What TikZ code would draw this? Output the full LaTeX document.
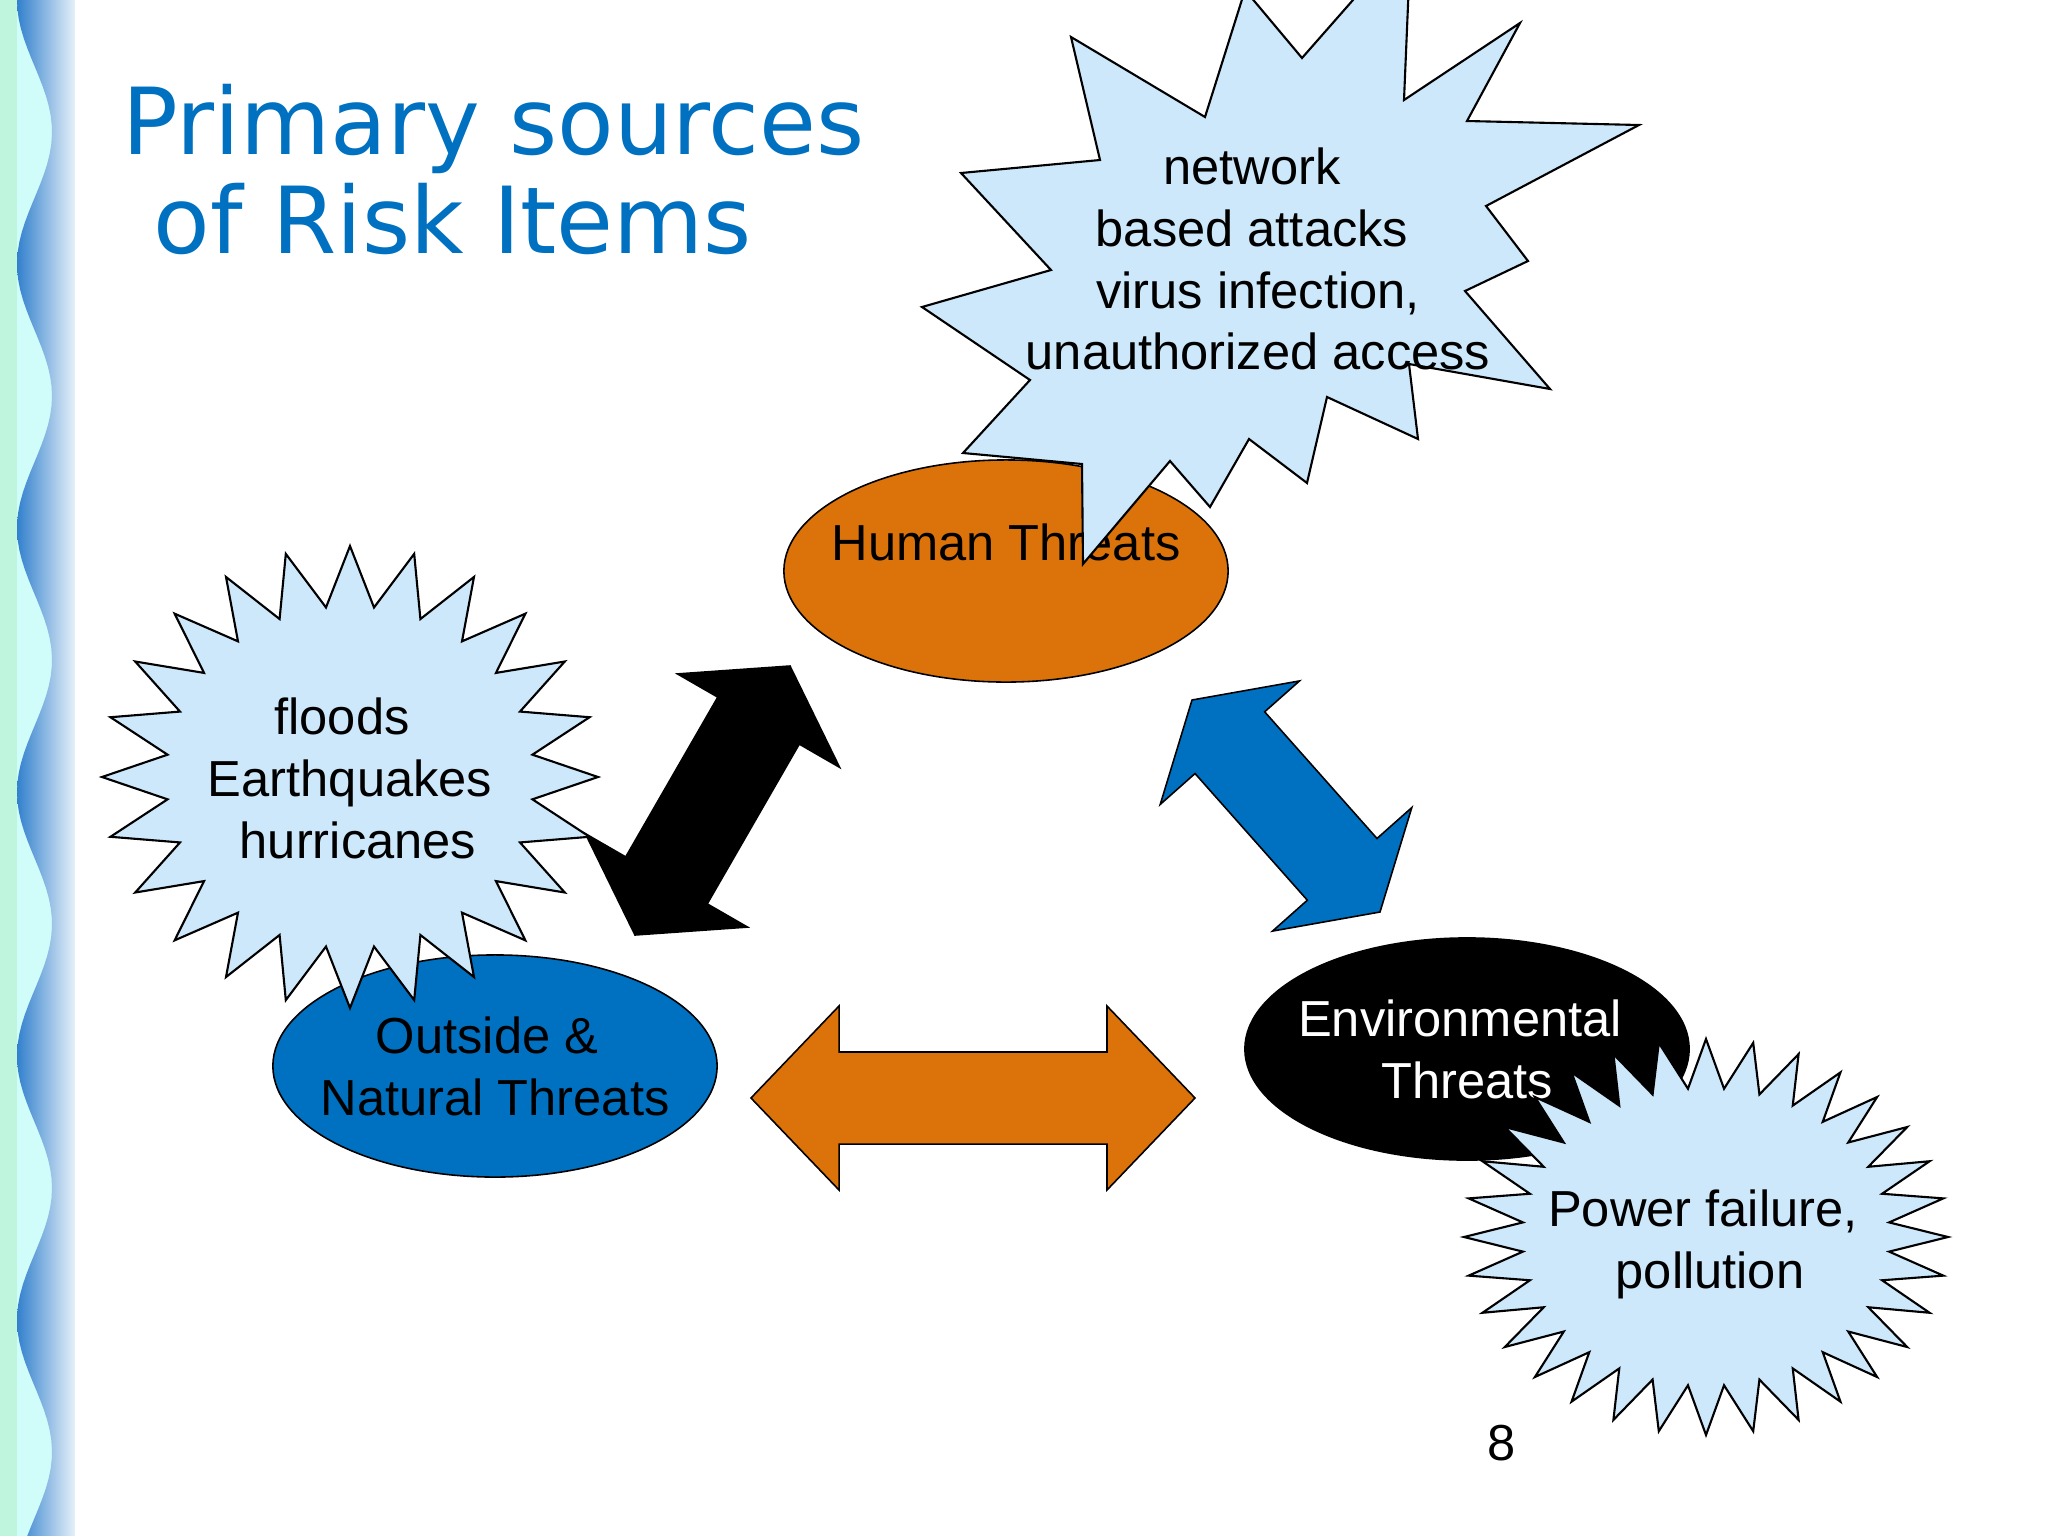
\documentclass[tikz,border=0pt]{standalone}
\usepackage{fontspec}
\setmainfont{Liberation Sans}
\newfontfamily\titlefont{DejaVu Sans}
\usetikzlibrary{calc,shapes.geometric}

\definecolor{titleblue}{RGB}{0,112,192}
\definecolor{threatorange}{RGB}{219,115,10}
\definecolor{threatblue}{RGB}{0,112,192}
\definecolor{burstblue}{RGB}{204,232,250}
\definecolor{bandgreen}{RGB}{190,245,220}
\definecolor{bandcyan}{RGB}{208,252,250}
\definecolor{bandblue}{RGB}{50,128,205}
\definecolor{bandpale}{RGB}{230,241,249}

\newcommand\bodysize{\fontsize{14.4pt}{17.6pt}\selectfont}
% block arrow with a head at both ends: tip, tip, half shaft, half head, head length, fill
\newcommand\dblarrow[6]{%
	\coordinate (ha) at ($(#1)!#5!(#2)$);
	\coordinate (hb) at ($(#2)!#5!(#1)$);
	\draw[arrowbox, fill=#6] (#1)
		-- ($(ha)!#4!90:(#2)$) -- ($(ha)!#3!90:(#2)$)
		-- ($(hb)!#3!-90:(#1)$) -- ($(hb)!#4!-90:(#1)$)
		-- (#2)
		-- ($(hb)!#4!90:(#1)$) -- ($(hb)!#3!90:(#1)$)
		-- ($(ha)!#3!-90:(#2)$) -- ($(ha)!#4!-90:(#2)$)
		-- cycle;
}

\begin{document}
\begin{tikzpicture}[
	x=0.01cm, y=-0.01cm,
	font=\bodysize,
	blob/.style={
		ellipse,
		draw,
		line width=0.45pt,
		minimum width=4.44cm,
		minimum height=2.22cm,
		inner xsep=-0.5cm,
		inner ysep=0pt,
		align=center,
	},
	burst/.style={draw, fill=burstblue, line width=0.6pt, line join=miter},
	arrowbox/.style={draw, line width=0.45pt, line join=miter},
	lbl/.style={align=center, inner sep=0pt},
]

\fill[white] (0,0) rectangle (2048,1536);
\clip (0,0) rectangle (2048,1536);

% wavy band on the left edge
\fill[bandgreen] (0,0) rectangle (17,1536);
\fill[bandcyan] (17,0) rectangle (60,1536);
\shade[left color=bandblue, right color=bandpale] (75,0)
	-- plot[domain=0:1536, samples=160, variable=\yy] ({34.5-17.5*cos(\yy/264*360)}, \yy)
	-- (75,1536) -- cycle;

\node[anchor=north west, inner sep=0pt, align=left, text=titleblue,
	font=\titlefont\fontsize{26.3pt}{27.9pt}\selectfont] (title) at (122,84)
	{Primary sources\\\hspace*{0.31cm}of Risk Items};

\coordinate (bkA) at (790,666);
\coordinate (bkB) at (635,935);
\coordinate (blA) at (1192,700);
\coordinate (blB) at (1380,912);
\coordinate (orA) at (751,1098);
\coordinate (orB) at (1195,1098);

\dblarrow{bkA}{bkB}{0.47cm}{0.935cm}{0.63cm}{black}
\dblarrow{blA}{blB}{0.465cm}{0.93cm}{0.57cm}{threatblue}
\dblarrow{orA}{orB}{0.46cm}{0.92cm}{0.88cm}{threatorange}

\node[blob, fill=threatorange, label={[lbl, yshift=0.29cm]center:Human Threats}] (human) at (1006,571) {};
\node[blob, fill=threatblue] (outside) at (495,1066) {Outside \&\hspace*{0.16cm}\\Natural Threats};
\node[blob, fill=black, text=white] (enviro) at (1467,1049) {Environmental\hspace*{0.14cm}\\Threats};

% starbursts
\draw[burst] (1071,37) \foreach \px/\py in {1205/117, 1245/-10, 1302/58, 1411/-66, 1404/100,
	1520/23, 1467/121, 1639/125, 1486/206, 1528/261, 1465/291, 1550/389, 1409/364,
	1418/439, 1327/397, 1307/483, 1249/439, 1210/507, 1170/461, 1083/564, 1082/464,
	963/453, 1030/380, 922/307, 1051/270, 961/173, 1100/160} {-- (\px,\py)} -- cycle;
\draw[burst] plot[variable=\k, samples at={0,...,47}]
	({350+ifthenelse(mod(\k,2),184,248)*sin(7.5*\k)}, {777-ifthenelse(mod(\k,2),171,231)*cos(7.5*\k)}) -- cycle;
\draw[burst] plot[variable=\k, samples at={0,...,63}]
	({1706+ifthenelse(mod(\k,2),184,242)*sin(5.625*\k)}, {1237-ifthenelse(mod(\k,2),149,198)*cos(5.625*\k)}) -- cycle;

\node[lbl] (netlbl) at (1252,259) {network\\based attacks\\\hspace*{0.12cm}virus infection,\\\hspace*{0.12cm}unauthorized access};
\node[lbl] (floodlbl) at (350,778) {floods\hspace*{0.16cm}\\Earthquakes\\\hspace*{0.16cm}hurricanes};
\node[lbl] (powerlbl) at (1703,1244) {Power failure,\\\hspace*{0.14cm}pollution};

\node[anchor=base, inner sep=0pt] (pagenum) at (1502,1460) {8};

\end{tikzpicture}
\end{document}
